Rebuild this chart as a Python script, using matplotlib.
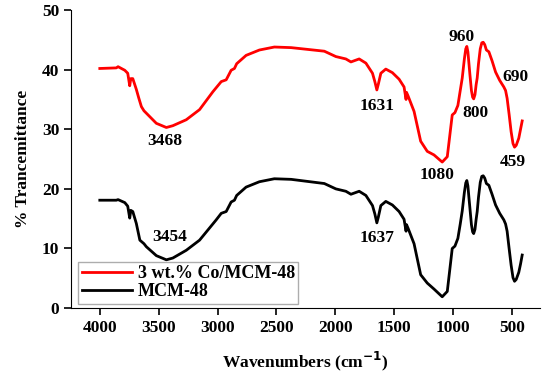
import numpy as np
import matplotlib.pyplot as plt

# wavenumber / % transmittance
wn_co = [4000, 3860, 3845, 3788, 3763, 3746, 3737, 3720, 3690, 3670, 3647, 3625,
         3605, 3520, 3435, 3380, 3266, 3153, 3040, 2969, 2927, 2885, 2857, 2838,
         2758, 2645, 2518, 2376, 2094, 1996, 1911, 1868, 1798, 1741, 1685, 1665,
         1648, 1635, 1614, 1572, 1516, 1459, 1417, 1400, 1396, 1383, 1332, 1276,
         1220, 1163, 1093, 1050, 1008, 985, 960, 940, 923, 905, 893, 884, 875,
         866, 858, 845, 835, 826, 815, 805, 796, 785, 770, 757, 745, 732, 718,
         697, 670, 640, 605, 570, 555, 542, 525, 508, 492, 479, 465, 443, 428, 414]
t_co = [40.2, 40.3, 40.5, 39.9, 39.4, 37.3, 38.5, 38.5, 36.7, 35.3, 33.8, 33.1,
        32.7, 31.0, 30.3, 30.6, 31.6, 33.3, 36.3, 38.0, 38.3, 39.9, 40.2, 41.0,
        42.4, 43.3, 43.8, 43.7, 43.1, 42.2, 41.8, 41.3, 41.8, 41.1, 39.4, 38.0,
        36.6, 37.6, 39.4, 40.1, 39.5, 38.4, 37.1, 35.0, 36.2, 35.6, 33.0, 28.0,
        26.3, 25.7, 24.5, 25.4, 32.4, 32.8, 34.0, 36.5, 38.6, 41.8, 43.5, 43.9,
        43.0, 41.0, 39.2, 36.5, 35.4, 35.1, 35.8, 37.5, 38.6, 41.0, 43.5, 44.5,
        44.6, 44.2, 43.3, 43.0, 41.5, 39.6, 38.2, 37.1, 36.5, 35.2, 32.5, 29.6,
        27.6, 27.0, 27.3, 28.5, 30.0, 31.4]

wn_mcm = [4000, 3860, 3845, 3788, 3763, 3746, 3737, 3720, 3690, 3660, 3625, 3605,
          3520, 3435, 3380, 3266, 3153, 3012, 2969, 2927, 2885, 2857, 2838, 2758,
          2645, 2518, 2376, 2094, 1996, 1911, 1868, 1798, 1741, 1685, 1665, 1648,
          1635, 1614, 1572, 1516, 1459, 1417, 1400, 1396, 1383, 1332, 1276, 1220,
          1163, 1093, 1050, 1008, 985, 960, 940, 923, 905, 893, 884, 875, 866,
          858, 845, 835, 826, 815, 805, 796, 785, 770, 757, 745, 732, 718, 697,
          670, 640, 605, 570, 555, 542, 525, 508, 492, 479, 465, 443, 428, 414]
t_mcm = [18.1, 18.1, 18.2, 17.7, 17.1, 15.1, 16.4, 16.2, 14.2, 11.4, 10.8, 10.3,
         8.8, 8.1, 8.4, 9.7, 11.4, 14.8, 15.9, 16.2, 17.8, 18.1, 18.9, 20.3,
         21.2, 21.7, 21.6, 20.9, 20.0, 19.6, 19.1, 19.6, 18.9, 17.2, 15.8, 14.3,
         15.3, 17.2, 17.9, 17.3, 16.2, 14.9, 12.9, 14.0, 13.4, 10.8, 5.6, 4.2,
         3.2, 1.9, 2.8, 10.0, 10.4, 11.7, 14.1, 16.3, 19.4, 21.0, 21.4, 20.5,
         18.5, 16.8, 14.0, 12.8, 12.5, 13.2, 14.9, 16.2, 18.6, 21.1, 22.1, 22.2,
         21.8, 20.9, 20.6, 19.1, 17.3, 15.9, 14.8, 14.1, 12.9, 10.0, 7.2, 5.1,
         4.5, 4.8, 6.0, 7.4, 8.9]

labels_co = [("3468", 3450, 28.0), ("1631", 1646, 33.9), ("960", 925, 45.5),
             ("800", 807, 32.7), ("690", 468, 38.8), ("1080", 1137, 22.3),
             ("459", 493, 24.5)]
labels_mcm = [("3454", 3407, 11.9), ("1637", 1646, 11.7)]

plt.rcParams['font.family'] = ['Liberation Serif', 'DejaVu Serif']
plt.rcParams['font.weight'] = 'bold'

fig = plt.figure(figsize=(5.5, 3.73), dpi=100)
ax = fig.add_axes([0.129, 0.174, 0.853, 0.799])

ax.plot(wn_co, t_co, color='#ff0000', lw=2, label='3 wt.% Co/MCM-48',
        solid_joinstyle='round')
ax.plot(wn_mcm, t_mcm, color='black', lw=2, label='MCM-48',
        solid_joinstyle='round')

for txt, x, y in labels_co + labels_mcm:
    ax.text(x, y, txt, ha='center', va='center', fontsize=12.5, fontweight='bold')

ax.set_xlim(4245, 262)
ax.set_ylim(0, 50)
ax.set_xticks(np.arange(4000, 499, -500))
ax.set_yticks(np.arange(0, 51, 10))
ax.spines['top'].set_visible(False)
ax.spines['right'].set_visible(False)
ax.tick_params(direction='out', length=5, width=1.2, labelsize=12.5)
for lab in ax.get_xticklabels() + ax.get_yticklabels():
    lab.set_fontweight('bold')

ax.set_xlabel('Wavenumbers (cm$^{\\mathbf{-1}}$)', fontsize=12.5, fontweight='bold', labelpad=10)
ax.set_ylabel('% Trancemittance', fontsize=12.5, fontweight='bold', labelpad=8)

leg = ax.legend(loc='lower left', bbox_to_anchor=(0.015, 0.015), borderaxespad=0,
                fancybox=False, edgecolor='#999999', handlelength=2.8,
                prop={'weight': 'bold', 'size': 13}, borderpad=0.2, labelspacing=0.05,
                handletextpad=0.3)
leg.get_frame().set_linewidth(1.0)

fig.savefig('out.png', dpi=100)
